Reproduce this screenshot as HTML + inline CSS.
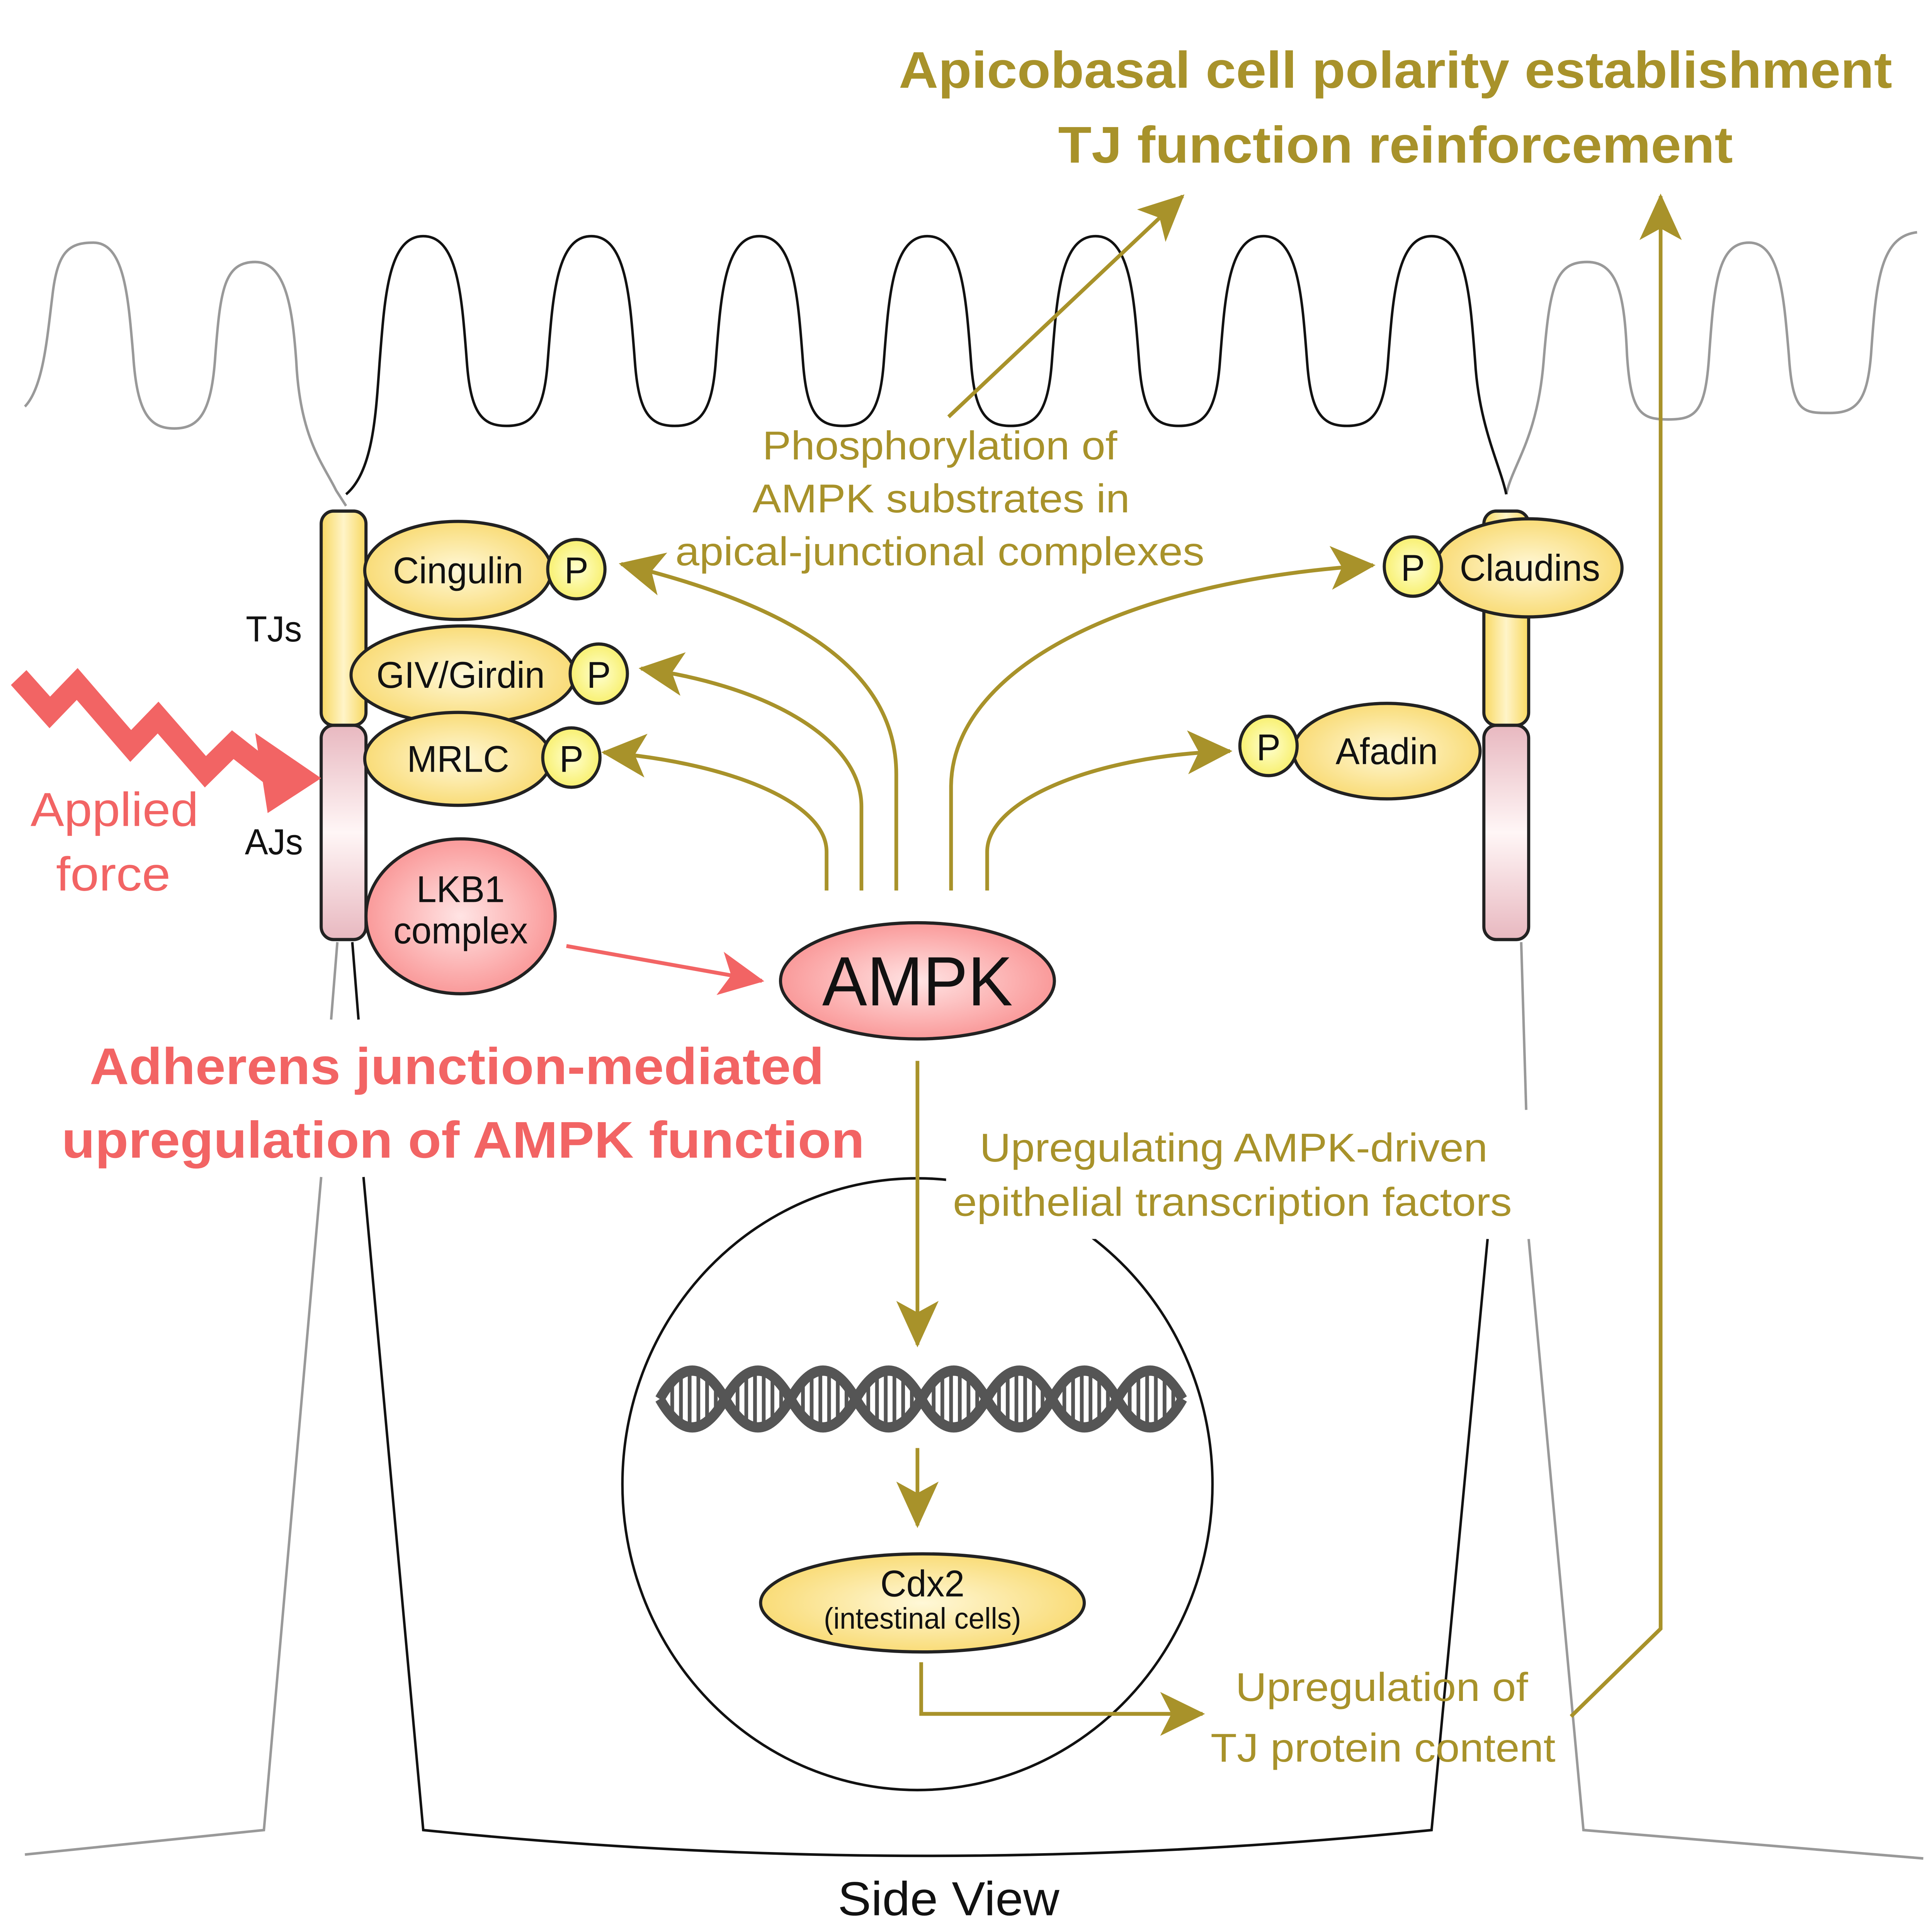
<!DOCTYPE html>
<html><head><meta charset="utf-8"><style>html,body{margin:0;padding:0;background:#fff;overflow:hidden;width:100%;height:100%}svg{display:block;width:100vw;height:100vh}</style></head>
<body>
<svg xmlns="http://www.w3.org/2000/svg" viewBox="0 0 1552 1497" preserveAspectRatio="none" font-family="Liberation Sans, Arial, sans-serif">
<defs>
<linearGradient id="yb" x1="0" x2="1" y1="0" y2="0"><stop offset="0" stop-color="#F8D860"/><stop offset="0.5" stop-color="#FFF4C8"/><stop offset="1" stop-color="#F8D860"/></linearGradient>
<linearGradient id="pv" x1="0" x2="0" y1="0" y2="1"><stop offset="0" stop-color="#E8B8C0"/><stop offset="0.5" stop-color="#FFF6F6"/><stop offset="1" stop-color="#E8B8C0"/></linearGradient>
<radialGradient id="ye"><stop offset="0" stop-color="#FFF8D8"/><stop offset="1" stop-color="#F9DC78"/></radialGradient>
<radialGradient id="re"><stop offset="0" stop-color="#FFE4E4"/><stop offset="1" stop-color="#FA9A9A"/></radialGradient>
<radialGradient id="pe"><stop offset="0" stop-color="#FFFFD0"/><stop offset="1" stop-color="#F8F070"/></radialGradient>
<marker id="oa" markerUnits="userSpaceOnUse" markerWidth="40" markerHeight="34" refX="34" refY="17" orient="auto"><path d="M0,0 L36,17 L0,34 L9,17 z" fill="#A8922A"/></marker>
<marker id="ra" markerUnits="userSpaceOnUse" markerWidth="40" markerHeight="34" refX="34" refY="17" orient="auto"><path d="M0,0 L36,17 L0,34 L9,17 z" fill="#F26464"/></marker>
<g id="rungs" stroke="#555" stroke-width="3">
<line x1="10" y1="-12" x2="10" y2="12"/><line x1="17" y1="-19" x2="17" y2="19"/><line x1="24" y1="-22" x2="24" y2="22"/><line x1="31" y1="-21" x2="31" y2="21"/><line x1="38" y1="-17" x2="38" y2="17"/><line x1="45" y1="-9" x2="45" y2="9"/>
</g>
</defs>
<rect width="1552" height="1497" fill="#fff"/>
<g fill="none" stroke="#999" stroke-width="2">
<path d="M20,315 C35,300 38,260 42,230 C46,195 55,188 75,188 C100,188 103,230 107,275 C110,320 120,332 140,332 C160,332 170,320 173,275 C177,225 180,203 205,203 C230,203 235,240 238,280 C241,340 260,360 270,380 L278,392"/>
<path d="M1210,383 C1215,360 1235,340 1240,280 C1245,220 1250,203 1275,203 C1300,203 1305,230 1307,275 C1310,320 1318,325 1340,325 C1362,325 1370,320 1373,275 C1377,220 1380,188 1405,188 C1430,188 1433,230 1437,275 C1440,320 1448,320 1470,320 C1492,320 1500,310 1503,275 C1507,220 1510,183 1540,180"/>
<path d="M271,730 L266,790"/><path d="M258,912 L212,1418 L20,1437"/>
<path d="M1222,730 L1226,860"/><path d="M1228,960 L1272,1418 L1545,1440"/>
</g>
<g fill="none" stroke="#111" stroke-width="2">
<path d="M278,383 C300,365 302,320 305,280 C309,230 312,183 340,183 C368,183 371,230 375,280 C378,320 387,330 407,330 C427,330 437,320 440,280 C444,230 447,183 475,183 C503,183 506,230 510,280 C513,320 522,330 542,330 C562,330 572,320 575,280 C579,230 582,183 610,183 C638,183 641,230 645,280 C648,320 657,330 677,330 C697,330 707,320 710,280 C714,230 717,183 745,183 C773,183 776,230 780,280 C783,320 792,330 812,330 C832,330 842,320 845,280 C849,230 852,183 880,183 C908,183 911,230 915,280 C918,320 927,330 947,330 C967,330 977,320 980,280 C984,230 987,183 1015,183 C1043,183 1046,230 1050,280 C1053,320 1062,330 1082,330 C1102,330 1112,320 1115,280 C1119,230 1122,183 1150,183 C1178,183 1181,230 1185,280 C1188,330 1205,360 1210,383"/>
<path d="M283,730 L288,790"/><path d="M292,912 L340,1418 Q745,1458 1150,1418 L1195,960"/>
<circle cx="737" cy="1150" r="237"/>
</g>
<rect x="760" y="865" width="470" height="95" fill="#fff"/>
<g stroke="#222" stroke-width="2.5">
<rect x="258" y="396" width="36" height="166" rx="10" fill="url(#yb)"/>
<rect x="258" y="562" width="36" height="166" rx="10" fill="url(#pv)"/>
<rect x="1192" y="396" width="36" height="166" rx="10" fill="url(#yb)"/>
<rect x="1192" y="562" width="36" height="166" rx="10" fill="url(#pv)"/>
</g>
<g stroke="#222" stroke-width="2.5">
<ellipse cx="368" cy="442" rx="75" ry="38" fill="url(#ye)"/>
<circle cx="463" cy="441" r="23" fill="url(#pe)"/>
<ellipse cx="372" cy="523" rx="90" ry="38" fill="url(#ye)"/>
<circle cx="481" cy="522" r="23" fill="url(#pe)"/>
<ellipse cx="368" cy="588" rx="75" ry="36" fill="url(#ye)"/>
<circle cx="459" cy="587" r="23" fill="url(#pe)"/>
<ellipse cx="370" cy="710" rx="76" ry="60" fill="url(#re)"/>
<ellipse cx="737" cy="760" rx="110" ry="45" fill="url(#re)"/>
<ellipse cx="1228" cy="440" rx="75" ry="38" fill="url(#ye)"/>
<circle cx="1135" cy="439" r="23" fill="url(#pe)"/>
<ellipse cx="1114" cy="582" rx="75" ry="37" fill="url(#ye)"/>
<circle cx="1019" cy="578" r="23" fill="url(#pe)"/>
<ellipse cx="741" cy="1242" rx="130" ry="38" fill="url(#ye)"/>
</g>
<g font-size="29" text-anchor="middle" fill="#111">
<text x="368" y="452">Cingulin</text><text x="463" y="452">P</text>
<text x="370" y="533">GIV/Girdin</text><text x="481" y="533">P</text>
<text x="368" y="598">MRLC</text><text x="459" y="598">P</text>
<text x="370" y="699">LKB1</text><text x="370" y="731">complex</text>
<text x="1229" y="450">Claudins</text><text x="1135" y="450">P</text>
<text x="1114" y="592">Afadin</text><text x="1019" y="589">P</text>
<text x="741" y="1237">Cdx2</text><text x="741" y="1262" font-size="23">(intestinal cells)</text>
<text x="737" y="779" font-size="54">AMPK</text>
</g>
<g fill="none" stroke="#555" stroke-width="8">
<path d="M530,1084 Q556,1040 582.5,1084 T635,1084 T687.5,1084 T740,1084 T792.5,1084 T845,1084 T897.5,1084 T950,1084"/>
<path d="M530,1084 Q556,1128 582.5,1084 T635,1084 T687.5,1084 T740,1084 T792.5,1084 T845,1084 T897.5,1084 T950,1084"/>
</g>
<use href="#rungs" transform="translate(530,1084)"/><use href="#rungs" transform="translate(582.5,1084)"/><use href="#rungs" transform="translate(635,1084)"/><use href="#rungs" transform="translate(687.5,1084)"/><use href="#rungs" transform="translate(740,1084)"/><use href="#rungs" transform="translate(792.5,1084)"/><use href="#rungs" transform="translate(845,1084)"/><use href="#rungs" transform="translate(897.5,1084)"/>
<g fill="none" stroke="#A8922A" stroke-width="3">
<path d="M664,690 L664,660 C664,620 580,590 485,583" marker-end="url(#oa)"/>
<path d="M692,690 L692,625 C692,570 610,530 515,518" marker-end="url(#oa)"/>
<path d="M720,690 L720,600 C720,520 640,470 499,437" marker-end="url(#oa)"/>
<path d="M764,690 L764,610 C764,520 900,450 1103,438" marker-end="url(#oa)"/>
<path d="M793,690 L793,660 C793,620 880,585 988,582" marker-end="url(#oa)"/>
<path d="M762,323 L950,152" marker-end="url(#oa)"/>
<path d="M1262,1330 L1334,1262 L1334,152" marker-end="url(#oa)"/>
<path d="M737,822 L737,1042" marker-end="url(#oa)"/>
<path d="M737,1122 L737,1182" marker-end="url(#oa)"/>
<path d="M740,1288 L740,1328 L966,1328" marker-end="url(#oa)"/>
</g>
<path d="M455,733 L612,760" stroke="#F26464" stroke-width="3" fill="none" marker-end="url(#ra)"/>
<polyline points="15,525 40,552 62,530 105,578 127,556 165,598 187,577 220,602" fill="none" stroke="#F26464" stroke-width="17" stroke-linejoin="miter"/>
<polygon points="258,603 205,568 215,630" fill="#F26464"/>
<g fill="#A8922A" font-weight="bold" font-size="40" text-anchor="middle">
<text x="1121" y="68" textLength="798" lengthAdjust="spacingAndGlyphs">Apicobasal cell polarity establishment</text>
<text x="1121" y="126" textLength="542" lengthAdjust="spacingAndGlyphs">TJ function reinforcement</text>
</g>
<g fill="#A8922A" font-size="31" text-anchor="middle">
<text x="755" y="356" textLength="285" lengthAdjust="spacingAndGlyphs">Phosphorylation of</text>
<text x="756" y="397" textLength="303" lengthAdjust="spacingAndGlyphs">AMPK substrates in</text>
<text x="755" y="438" textLength="425" lengthAdjust="spacingAndGlyphs">apical-junctional complexes</text>
<text x="991" y="900" textLength="408" lengthAdjust="spacingAndGlyphs">Upregulating AMPK-driven</text>
<text x="990" y="942" textLength="449" lengthAdjust="spacingAndGlyphs">epithelial transcription factors</text>
<text x="1110" y="1318" textLength="235" lengthAdjust="spacingAndGlyphs">Upregulation of</text>
<text x="1111" y="1365" textLength="277" lengthAdjust="spacingAndGlyphs">TJ protein content</text>
</g>
<g fill="#F26464" font-size="37" text-anchor="middle">
<text x="92" y="640" textLength="135" lengthAdjust="spacingAndGlyphs">Applied</text>
<text x="91" y="690" textLength="92" lengthAdjust="spacingAndGlyphs">force</text>
</g>
<g fill="#F26464" font-weight="bold" font-size="40" text-anchor="middle">
<text x="367" y="840" textLength="590" lengthAdjust="spacingAndGlyphs">Adherens junction-mediated</text>
<text x="372" y="897" textLength="645" lengthAdjust="spacingAndGlyphs">upregulation of AMPK function</text>
</g>
<g fill="#111" font-size="28" text-anchor="middle">
<text x="220" y="497">TJs</text><text x="220" y="662">AJs</text>
<text x="762" y="1484" font-size="37" textLength="178" lengthAdjust="spacingAndGlyphs">Side View</text>
</g>
</svg>
</body></html>
